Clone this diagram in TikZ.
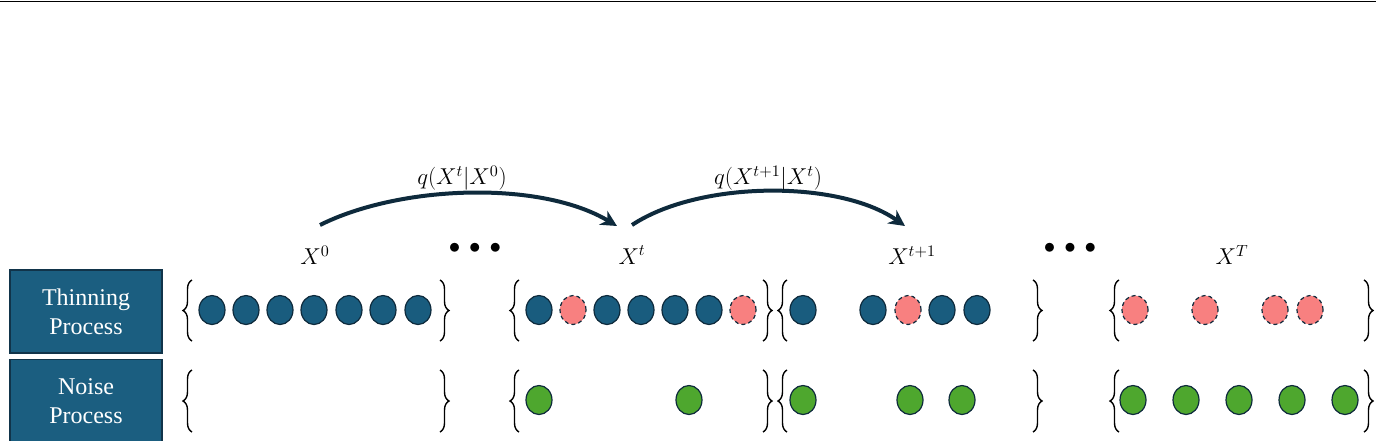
\RequirePackage{fix-cm}
\documentclass[tikz,border=0pt]{standalone}
\usepackage{fontspec}
\setmainfont{Liberation Serif}
\usetikzlibrary{decorations.pathreplacing,arrows.meta,shapes.geometric}
\definecolor{boxblue}{HTML}{1B5E80}
\definecolor{dotblue}{HTML}{195C7E}
\definecolor{pinkc}{HTML}{F88080}
\definecolor{greenc}{HTML}{4EA72E}
\definecolor{navy}{HTML}{0E2A3C}
\newcommand{\mylabm}[1]{\scalebox{1.35}{$#1$}}
\tikzset{
  lbox/.style={draw=navy!80!boxblue, line width=1.5pt, fill=boxblue, text=white, minimum width=152pt, minimum height=83pt, align=center, font=\fontsize{24}{29}\selectfont, inner sep=0pt},
  bdot/.style={ellipse, draw=navy, line width=1.2pt, fill=dotblue, minimum width=26pt, minimum height=29pt, inner sep=0pt},
  pdot/.style={ellipse, draw=navy, dash pattern=on 4pt off 3pt, line width=1.2pt, fill=pinkc, minimum width=26pt, minimum height=29pt, inner sep=0pt},
  gdot/.style={ellipse, draw=navy, line width=1.2pt, fill=greenc, minimum width=26pt, minimum height=29pt, inner sep=0pt},
  lab/.style={inner sep=0pt, font=\fontsize{17}{20}\selectfont},
  brc/.style={decorate, decoration={brace, amplitude=9pt}, line width=1.4pt},
  trans/.style={-{Stealth[length=16pt,width=16pt,inset=5pt]}, line width=4pt, draw=navy},
}
\begin{document}
\begin{tikzpicture}[x=1pt,y=-1pt]
\useasboundingbox (0,0) rectangle (1376,440);
\draw[line width=1pt] (0,1) -- (1376,1);
\node[lbox] (thin) at (86,311.5) {Thinning\\Process};
\node[lbox] (noise) at (86,401) {Noise\\Process};
% braces
\foreach \l/\r/\n in {192/440/a,519/763/b,787/1033/c,1119/1364/d}{
  \draw[brc] (\l,341) -- (\l,280);
  \draw[brc] (\r,280) -- (\r,341);
  \draw[brc] (\l,432) -- (\l,370);
  \draw[brc] (\r,370) -- (\r,432);
}
% thinning
\foreach \x [count=\i] in {212,246,280,314,349,383,418} \node[bdot] (a\i) at (\x,310) {};
\foreach \x/\s [count=\i] in {539/bdot,573/pdot,607/bdot,641/bdot,675/bdot,709/bdot,743/pdot} \node[\s] (b\i) at (\x,310) {};
\foreach \x/\s [count=\i] in {803/bdot,873/bdot,908/pdot,942/bdot,977/bdot} \node[\s] (c\i) at (\x,310) {};
\foreach \x [count=\i] in {1135,1205,1275,1310} \node[pdot] (d\i) at (\x,310) {};
% noise
\foreach \x [count=\i] in {539,689} \node[gdot] (gb\i) at (\x,400) {};
\foreach \x [count=\i] in {803,910,962} \node[gdot] (gc\i) at (\x,400) {};
\foreach \x [count=\i] in {1133,1186,1239,1292,1345} \node[gdot] (gd\i) at (\x,400) {};
% labels
\node[lab] (x0) at (315,255) {\mylabm{X^0}};
\node[lab] (xt) at (632,255) {\mylabm{X^t}};
\node[lab] (xt1) at (912,255) {\mylabm{X^{t+1}}};
\node[lab] (xT) at (1232,255) {\mylabm{X^T}};
\node[lab] (d1) at (475,248) {\mylabm{\bullet\,\bullet\,\bullet}};
\node[lab] (d2) at (1070,248) {\mylabm{\bullet\,\bullet\,\bullet}};
\coordinate (s1) at (320,225);
\coordinate (e1) at (617,226);
\coordinate (s2) at (632,225);
\coordinate (e2) at (905,226);
\draw[trans] (s1) .. controls (400,185) and (540,180) .. (e1);
\draw[trans] (s2) .. controls (700,180) and (840,180) .. (e2);
\node[lab] (q1) at (462,178) {\mylabm{q(X^t|X^0)}};
\node[lab] (q2) at (768,178) {\mylabm{q(X^{t+1}|X^t)}};
\end{tikzpicture}
\end{document}
